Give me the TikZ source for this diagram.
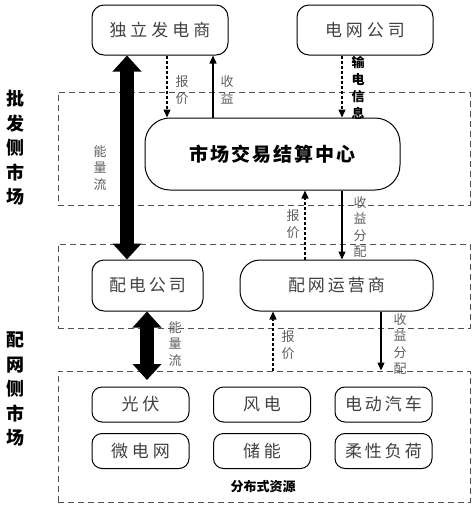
\documentclass[tikz,border=0pt]{standalone}
\usepackage{fontspec}
\setmainfont{Noto Sans CJK SC}
\usetikzlibrary{arrows.meta}
\definecolor{boxtext}{HTML}{404040}
\definecolor{labtext}{HTML}{606060}
\definecolor{dashgray}{HTML}{505050}
\newcommand\ls[2]{\def\lsgap{\hspace{#1}}\lsA#2\relax}
\def\lsA#1{#1\lsB}
\def\lsB#1{\ifx#1\relax\else\lsgap#1\expandafter\lsB\fi}
\tikzset{
  rbox/.style={draw, line width=1pt, inner sep=0pt, text=boxtext,
    font=\fontsize{17}{17}\selectfont},
  zone/.style={draw=dashgray, line width=0.9pt, dash pattern=on 6pt off 4pt, inner sep=0pt},
  lab/.style={align=center, inner sep=0pt, text=labtext, font=\fontsize{13}{16.5}\selectfont},
  blab/.style={align=center, inner sep=0pt, text=black, font=\bfseries\fontsize{13}{17}\selectfont},
  side/.style={align=center, inner sep=0pt, text=black, font=\bfseries\fontsize{18}{24.5}\selectfont},
  flow/.style={line width=1.3pt, -{Triangle[length=8pt,width=7pt]}},
  dflow/.style={flow, dash pattern=on 3pt off 2pt},
  energy/.style={line width=14pt, {Triangle[length=16pt,width=28pt]}-{Triangle[length=16pt,width=28pt]}},
}
\begin{document}
\begin{tikzpicture}[x=1pt,y=-1pt]
\useasboundingbox (0,0) rectangle (474,507);
% zones
\node[zone, minimum width=412pt, minimum height=113pt] (z1) at (264,148.5) {};
\node[zone, minimum width=412pt, minimum height=84pt] (z2) at (264,286) {};
\node[zone, minimum width=412pt, minimum height=131pt] (z3) at (264,436.5) {};
% top boxes
\node[rbox, rounded corners=12pt, minimum width=136pt, minimum height=50pt] (gen) at (160,30) {\ls{4pt}{独立发电商}};
\node[rbox, rounded corners=12pt, minimum width=136pt, minimum height=50pt] (grid) at (365,30) {\ls{4pt}{电网公司}};
\node[rbox, rounded corners=25pt, minimum width=255pt, minimum height=72pt, text=black,
  font=\bfseries\fontsize{19}{19}\selectfont] (ctr) at (272.5,154) {\ls{2pt}{市场交易结算中心}};
\node[rbox, rounded corners=12pt, minimum width=111pt, minimum height=51pt] (dist) at (147.5,285.5) {\ls{3pt}{配电公司}};
\node[rbox, rounded corners=20pt, minimum width=193pt, minimum height=51pt] (op) at (336.5,285.5) {\ls{3pt}{配网运营商}};
% resources
\node[rbox, rounded corners=10pt, minimum width=97pt, minimum height=35pt] (pv) at (140.5,404.5) {\ls{4pt}{光伏}};
\node[rbox, rounded corners=10pt, minimum width=97pt, minimum height=35pt] (wind) at (262,404.5) {\ls{4pt}{风电}};
\node[rbox, rounded corners=10pt, minimum width=97pt, minimum height=35pt] (ev) at (383.5,404.5) {\ls{3pt}{电动汽车}};
\node[rbox, rounded corners=10pt, minimum width=97pt, minimum height=35pt] (mg) at (140.5,451) {\ls{4pt}{微电网}};
\node[rbox, rounded corners=10pt, minimum width=97pt, minimum height=35pt] (st) at (262,451) {\ls{4pt}{储能}};
\node[rbox, rounded corners=10pt, minimum width=97pt, minimum height=35pt] (fl) at (383.5,451) {\ls{3pt}{柔性负荷}};
\node[blab, font=\bfseries\fontsize{13}{13}\selectfont] (res) at (263,487) {分布式资源};
% side labels
\node[side] (wh) at (15,148) {批\\发\\侧\\市\\场};
\node[side] (dm) at (15,389) {配\\网\\侧\\市\\场};
% energy arrows
\coordinate (e2) at (147,380);
\draw[energy] (gen.south -| 127,0) -- (dist.north -| 127,0);
\draw[energy] (dist.south -| 147,0) -- (e2);
\node[lab] (el1) at (100,168) {能\\量\\流};
\node[lab] (el2) at (175,344) {能\\量\\流};
% wholesale arrows
\draw[dflow] (gen.south -| 167,0) -- (ctr.north -| 167,0);
\draw[flow] (ctr.north -| 213,0) -- (gen.south -| 213,0);
\draw[dflow] (grid.south -| 342,0) -- (ctr.north -| 342,0);
\node[lab] (q1) at (182,90) {报\\价};
\node[lab] (r1) at (227,90) {收\\益};
\node[blab] (tx) at (358,88) {输\\电\\信\\息};
% center <-> operator
\draw[dflow] (op.north -| 305,0) -- (ctr.south -| 305,0);
\draw[flow] (ctr.south -| 342,0) -- (op.north -| 342,0);
\node[lab] (q2) at (293,224) {报\\价};
\node[lab] (r2) at (360,227) {收\\益\\分\\配};
% operator <-> resources
\draw[dflow] (z3.north -| 273,0) -- (op.south -| 273,0);
\draw[flow] (op.south -| 381,0) -- (z3.north -| 381,0);
\node[lab] (q3) at (288,345) {报\\价};
\node[lab] (r3) at (400,344) {收\\益\\分\\配};
\end{tikzpicture}
\end{document}
